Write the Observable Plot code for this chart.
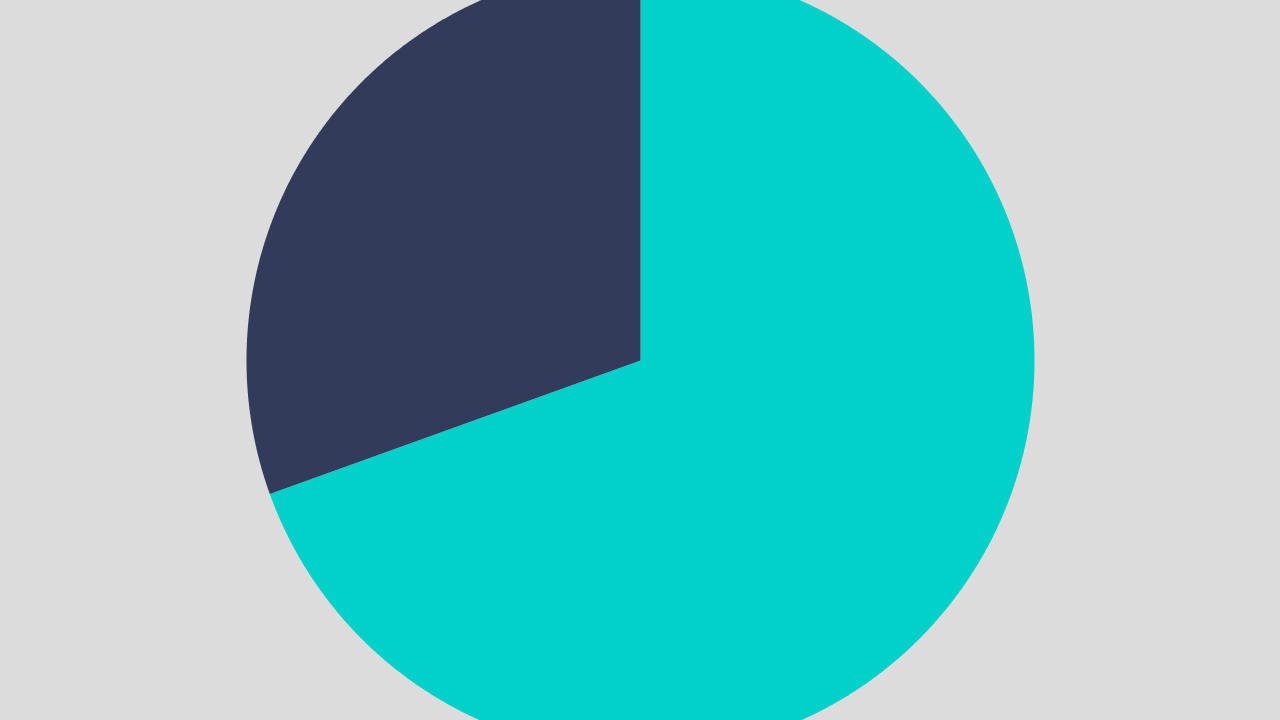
<!DOCTYPE html>
<html>
<head>
<meta charset="utf-8">
<script src="https://cdn.jsdelivr.net/npm/d3@7"></script>
<script src="https://cdn.jsdelivr.net/npm/@observablehq/plot@0.6"></script>
<style>
  html, body { margin: 0; padding: 0; background: #dcdcdc; overflow: hidden; }
  #chart { width: 1280px; height: 720px; }
</style>
</head>
<body>
<div id="chart"></div>
<script>
const categories = ["B", "A"];
const values = [69.5, 30.5];
const colors = ["#00d2ca", "#323c5a"];

const W = 1280, H = 720, R = 394;

const arcs = d3.pie().sort(null).value((d, i) => values[i])(categories);
const pts = [];
arcs.forEach((a, i) => {
  const cat = categories[i];
  pts.push({cat, x: 0, y: 0});
  const n = Math.max(2, Math.ceil((a.endAngle - a.startAngle) / 0.005));
  for (let k = 0; k <= n; k++) {
    const t = a.startAngle + (a.endAngle - a.startAngle) * k / n;
    pts.push({cat, x: Math.sin(t), y: Math.cos(t)});
  }
});

const chart = Plot.plot({
  width: W,
  height: H,
  margin: 0,
  style: {background: "#dcdcdc"},
  x: {domain: [-W / 2 / R, W / 2 / R], axis: null},
  y: {domain: [-H / 2 / R, H / 2 / R], axis: null},
  color: {domain: categories, range: colors},
  marks: [
    Plot.line(pts, {x: "x", y: "y", z: "cat", fill: "cat", stroke: "none", curve: "linear-closed"})
  ]
});
document.getElementById("chart").append(chart);
</script>
</body>
</html>
